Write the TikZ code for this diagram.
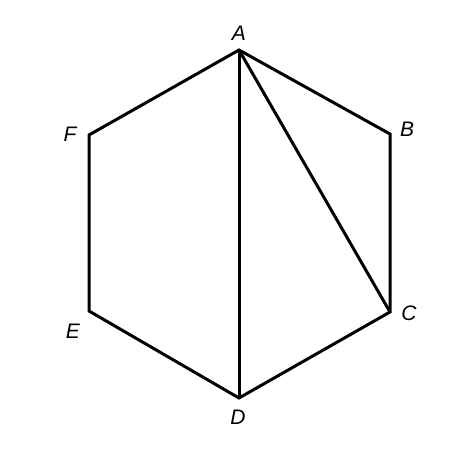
\documentclass[tikz,border=0pt]{standalone}
\usepackage{fontspec}
\setmainfont{Liberation Sans}
\usetikzlibrary{positioning}
\tikzstyle{vnode} = [coordinate]
\tikzstyle{vlabel} = [font=\fontsize{21}{24}\selectfont\itshape, inner sep=0pt]
\tikzstyle{line} = [draw, line width=3pt, line join=miter]

\begin{document}
\begin{tikzpicture}[x=1pt, y=-1pt]
			\useasboundingbox (0,0) rectangle (474,460);
			\node [vnode] (A) at (239, 50) {};
			\node [vnode] (B) at (390, 134) {};
			\node [vnode] (C) at (390, 312) {};
			\node [vnode] (D) at (239, 398) {};
			\node [vnode] (E) at (89, 311) {};
			\node [vnode] (F) at (89, 135) {};

			\node [vlabel] (lA) at (239, 33) {A};
			\node [vlabel] (lB) at (407, 129) {B};
			\node [vlabel] (lC) at (409, 313) {C};
			\node [vlabel] (lD) at (238, 417) {D};
			\node [vlabel] (lE) at (73, 331) {E};
			\node [vlabel] (lF) at (70, 134) {F};

			\path [line] (A) -- (B) -- (C) -- (D) -- (E) -- (F) -- cycle;
			\path [line] (A) -- (D);
			\path [line] (A) -- (C);
		\end{tikzpicture}
\end{document}
